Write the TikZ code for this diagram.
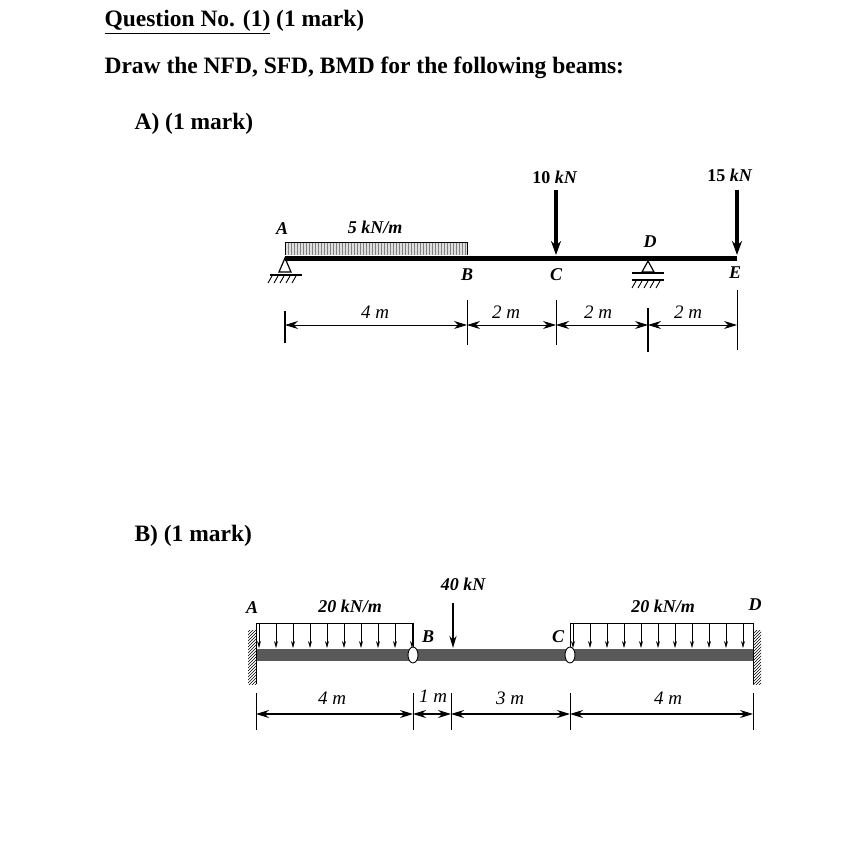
\documentclass[tikz,border=0pt]{standalone}
\usepackage{fontspec}
\setmainfont{Liberation Serif}
\usetikzlibrary{arrows.meta,patterns}
\begin{document}
\begin{tikzpicture}[x=1pt,y=-1pt,
 title/.style={anchor=west,font=\bfseries\fontsize{23.5}{25}\selectfont},
 lbl/.style={font=\bfseries\itshape\fontsize{18}{19}\selectfont},
 dimlbl/.style={font=\itshape\fontsize{19}{20}\selectfont},
 dim/.style={{Stealth[length=13pt,width=8pt]}-{Stealth[length=13pt,width=8pt]},line width=0.8pt},
 ext/.style={line width=0.6pt},
 force/.style={-{Stealth[length=14pt,width=10pt]},line width=3.5pt},
 hatch/.style={pattern=north east lines}]
\useasboundingbox (0,0) rectangle (867,856);
\node[title] (t1) at (101,22) {\underline{Question No. (1)} (1 mark)};
\node[title] (t2) at (101,68) {Draw the NFD, SFD, BMD for the following beams:};
\node[title] (t3) at (131,124) {A) (1 mark)};
\node[title] (t4) at (131,536) {B) (1 mark)};
% ---- Beam A
\coordinate (A) at (285,258); \coordinate (B) at (467,258);
\coordinate (C) at (556,258); \coordinate (D) at (648,258); \coordinate (E) at (737,258);
\fill[gray!25] (285,242) rectangle (467,255);
\foreach \x in {288,291,...,465} \draw[gray,line width=0.3pt] (\x,242)--(\x,255);
\draw[line width=0.6pt] (285,255)--(285,242)--(467,242)--(467,255);
\draw[line width=5pt] (A)--(E);
\draw[line width=1.2pt] (A)--(279,272)--(291,272)--cycle;
\draw[line width=1.2pt] (270,275)--(302,275);
\foreach \x in {272,278,...,300} \draw[line width=0.9pt] (\x,276)--(\x-4,283);
\draw[line width=1.2pt] (648,261)--(642,272)--(654,272)--cycle;
\draw[line width=1.4pt] (632,273)--(664,273);
\draw[line width=1.2pt] (632,280)--(664,280);
\foreach \x in {636,642,...,662} \draw[line width=0.9pt] (\x,281)--(\x-4,288);
\node[lbl] (la) at (282,229) {A};
\node[lbl] (l5) at (375,227) {5 kN/m};
\node[lbl] (lb) at (467,275) {B};
\node[lbl] (lc) at (556,275) {C};
\node[lbl] (ld) at (650,242) {D};
\node[lbl] (le) at (735,273) {E};
\node[font=\bfseries\fontsize{18}{19}\selectfont] (f10) at (555,177) {10 \textit{kN}};
\node[font=\bfseries\fontsize{18}{19}\selectfont] (f15) at (730,175) {15 \textit{kN}};
\draw[force] (556,190)--(556,255);
\draw[force] (737,190)--(737,255);
\coordinate (d1) at (285,325); \coordinate (d2) at (467,325); \coordinate (d3) at (556,325);
\coordinate (d4) at (648,325); \coordinate (d5) at (737,325);
\draw[line width=2.5pt] (285,311)--(285,343);
\draw[line width=2.5pt] (648,308)--(648,352);
\foreach \x in {467,556} \draw[ext] (\x,300)--(\x,345);
\draw[ext] (737,290)--(737,350);
\draw[dim] (d1)--(d2); \draw[dim] (d2)--(d3); \draw[dim] (d3)--(d4); \draw[dim] (d4)--(d5);
\node[dimlbl] (m1) at (375,312) {4 m};
\node[dimlbl] (m2) at (506,312) {2 m};
\node[dimlbl] (m3) at (598,312) {2 m};
\node[dimlbl] (m4) at (688,312) {2 m};
% ---- Beam B
\fill[gray!70!black] (256,649) rectangle (753,661);
\draw[line width=0.9pt] (256,649)--(256,623)--(413,623)--(413,649);
\draw[line width=0.9pt] (570,649)--(570,623)--(753,623)--(753,649);
\foreach \x in {256,273,...,410} \draw[-{Stealth[length=7pt,width=4pt]},line width=0.8pt] (\x+3,623)--(\x+3,648);
\foreach \x in {570,587,...,750} \draw[-{Stealth[length=7pt,width=4pt]},line width=0.8pt] (\x+3,623)--(\x+3,648);
\draw[line width=1pt] (256,630)--(256,684);
\fill[pattern=north east lines,pattern color=black] (248,630) rectangle (256,684);
\draw[line width=1pt] (753,630)--(753,684);
\fill[pattern=north east lines,pattern color=black] (753,630) rectangle (761,684);
\draw[fill=white,line width=0.9pt] (413,655) ellipse (5pt and 8pt);
\draw[fill=white,line width=0.9pt] (570,655) ellipse (5pt and 8pt);
\draw[-{Stealth[length=12pt,width=7pt]},line width=2pt] (453,603)--(453,648);
\node[lbl] (ba) at (252,608) {A};
\node[lbl] (bb) at (428,637) {B};
\node[lbl] (bc) at (558,637) {C};
\node[lbl] (bd) at (755,605) {D};
\node[lbl] (q1) at (350,606) {20 kN/m};
\node[lbl] (q2) at (663,606) {20 kN/m};
\node[lbl] (p40) at (463,584) {40 kN};
\foreach \x in {256,413,451,570,753} \draw[ext] (\x,693)--(\x,730);
\coordinate (e1) at (256,714); \coordinate (e2) at (413,714); \coordinate (e3) at (451,714);
\coordinate (e4) at (570,714); \coordinate (e5) at (753,714);
\draw[dim,line width=1.2pt] (e1)--(e2); \draw[dim,line width=1.2pt] (e2)--(e3); \draw[dim,line width=1.2pt] (e3)--(e4); \draw[dim,line width=1.2pt] (e4)--(e5);
\node[dimlbl] (n1) at (332,698) {4 m};
\node[dimlbl] (n2) at (433,696) {1 m};
\node[dimlbl] (n3) at (510,698) {3 m};
\node[dimlbl] (n4) at (668,698) {4 m};
\end{tikzpicture}
\end{document}
